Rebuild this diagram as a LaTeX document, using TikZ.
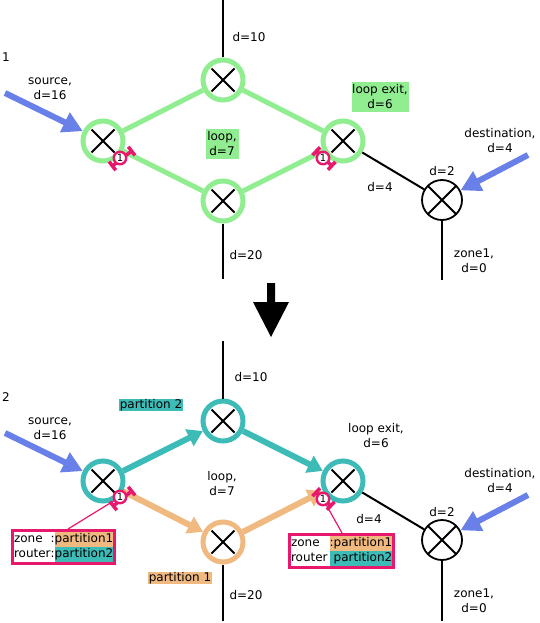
\documentclass[tikz,border=0pt]{standalone}
\usepackage{fontspec}
\setmainfont{DejaVu Sans}
\usetikzlibrary{arrows.meta}
\definecolor{lgreen}{RGB}{144,238,144}
\definecolor{tealc}{RGB}{61,187,183}
\definecolor{orangec}{RGB}{239,185,128}
\definecolor{bluec}{RGB}{104,128,232}
\definecolor{markred}{RGB}{232,24,108}
\newcommand\linkmark[7]{%
  \draw[markred, line width=3.5pt, {Bar[width=11pt,line width=3.5pt]}-{Bar[width=11pt,line width=3.5pt]}] (#4,#5) -- (#6,#7);
  \node[circle, draw=markred, fill=white, line width=2.4pt, inner sep=0pt, minimum size=12.5pt, font=\fontsize{10}{10}\selectfont] (#1) at (#2,#3) {1};
}
\begin{document}
\begin{tikzpicture}[x=1pt,y=-1pt, font=\fontsize{12}{15}\selectfont,
  router/.style={circle, minimum size=40pt, inner sep=0pt, line width=5pt, fill=white,
    path picture={\draw[black,line width=2pt]
      ([shift={(-11.5pt,-11.5pt)}]path picture bounding box.center) -- ([shift={(11.5pt,11.5pt)}]path picture bounding box.center)
      ([shift={(-11.5pt,11.5pt)}]path picture bounding box.center) -- ([shift={(11.5pt,-11.5pt)}]path picture bounding box.center);}},
  destrouter/.style={circle, minimum size=40pt, inner sep=0pt, line width=1.8pt, draw=black, fill=white,
    path picture={\draw[black,line width=1.8pt]
      ([shift={(-15pt,-15pt)}]path picture bounding box.center) -- ([shift={(15pt,15pt)}]path picture bounding box.center)
      ([shift={(-15pt,15pt)}]path picture bounding box.center) -- ([shift={(15pt,-15pt)}]path picture bounding box.center);}},
  glink/.style={draw=lgreen, line width=5pt},
  tlink/.style={draw=tealc, line width=6pt, -{Triangle[length=15pt,width=18pt]}},
  olink/.style={draw=orangec, line width=6pt, -{Triangle[length=15pt,width=18pt]}},
  wire/.style={draw=black, line width=2pt},
  bluearrow/.style={draw=bluec, line width=6pt, -{Triangle[length=20pt,width=21pt]}},
  lbl/.style={align=center, inner sep=0.5pt},
  gbox/.style={fill=lgreen, align=center, inner sep=0.5pt},
  infobox/.style={draw=markred, line width=3pt, fill=white, inner sep=1.5pt},
]
\useasboundingbox (0,0) rectangle (540,623);
\setlength\fboxsep{0pt}

% ================= diagram 1 =================
\node (num1) at (6,57) {1};
\node[router, draw=lgreen] (s1) at (103,141) {};
\node[router, draw=lgreen] (t1) at (223,80) {};
\node[router, draw=lgreen] (b1) at (223,201) {};
\node[router, draw=lgreen] (e1) at (343,141) {};
\node[destrouter] (d1) at (442,200) {};
\coordinate (t1top) at (223,0);
\coordinate (b1bot) at (223,279);
\coordinate (d1bot) at (442,280);
\coordinate (src1) at (5,93);
\coordinate (dst1) at (528,155);

\draw[glink] (s1) -- (t1);
\draw[glink] (s1) -- (b1);
\draw[glink] (t1) -- (e1);
\draw[glink] (b1) -- (e1);
\draw[wire] (t1) -- (t1top);
\draw[wire] (b1) -- (b1bot);
\draw[wire] (e1) -- (d1);
\draw[wire] (d1) -- (d1bot);
\draw[bluearrow] (src1) -- (s1);
\draw[bluearrow] (dst1) -- (d1);

\node[lbl] (srcl1) at (50,89) {source,\\d=16};
\node[lbl] (d10a) at (249,37) {d=10};
\node[gbox, minimum width=33pt, minimum height=30pt] (loop1) at (222,144) {loop,\\d=7};
\node[gbox, minimum width=57pt, minimum height=30pt] (exit1) at (380,97) {loop exit,\\d=6};
\node[lbl] (dstl1) at (500,141) {destination,\\d=4};
\node[lbl] (d2a) at (442,171) {d=2};
\node[lbl] (d4a) at (380,187) {d=4};
\node[lbl] (d20a) at (246,255) {d=20};
\node[lbl] (zone1a) at (474,261) {zone1,\\d=0};

\linkmark{m1}{120}{158}{111}{167}{133}{150}
\linkmark{m2}{323}{158}{315}{150}{333}{167}

% ================= transition arrow =================
\fill[black] (267,283) -- (275,283) -- (275,302) -- (289,302) -- (271,337) -- (253,302) -- (267,302) -- cycle;

% ================= diagram 2 =================
\node (num2) at (6,397) {2};
\node[router, draw=tealc] (s2) at (103,481) {};
\node[router, draw=tealc] (t2) at (223,421) {};
\node[router, draw=orangec] (b2) at (223,542) {};
\node[router, draw=tealc] (e2) at (343,481) {};
\node[destrouter] (d2) at (442,540) {};
\coordinate (t2top) at (223,341);
\coordinate (b2bot) at (223,621);
\coordinate (d2bot) at (442,621);
\coordinate (src2) at (5,433);
\coordinate (dst2) at (528,495);

\draw[wire] (t2) -- (t2top);
\draw[wire] (b2) -- (b2bot);
\draw[wire] (e2) -- (d2);
\draw[wire] (d2) -- (d2bot);
\draw[tlink] (s2) -- (t2);
\draw[tlink] (t2) -- (e2);
\draw[olink] (s2) -- (b2);
\draw[olink] (b2) -- (e2);
\draw[bluearrow] (src2) -- (s2);
\draw[bluearrow] (dst2) -- (d2);

\node[lbl] (srcl2) at (50,429) {source,\\d=16};
\node[lbl] (d10b) at (251,377) {d=10};
\node[fill=tealc, inner sep=0.5pt] (p2) at (151,405) {partition 2};
\node[lbl] (loop2) at (222,484) {loop,\\d=7};
\node[lbl] (exit2) at (376,436) {loop exit,\\d=6};
\node[lbl] (dstl2) at (500,481) {destination,\\d=4};
\node[lbl] (d2b) at (442,512) {d=2};
\node[lbl] (d4b) at (369,519) {d=4};
\node[fill=orangec, inner sep=0.5pt] (p1) at (180,578) {partition 1};
\node[lbl] (d20b) at (246,595) {d=20};
\node[lbl] (zone1b) at (474,601) {zone1,\\d=0};

\node[infobox, anchor=north west] (box1) at (11,529)
  {\begin{tabular}{@{}l@{}l@{}l@{}}zone & : & \colorbox{orangec}{\strut partition1}\\
   router & : & \colorbox{tealc}{\strut partition2}\end{tabular}};
\node[infobox, anchor=north west] (box2) at (288,533)
  {\begin{tabular}{@{}l@{\,}l@{}}zone & \colorbox{orangec}{\strut :partition1}\\
   router & \colorbox{tealc}{\strut\hphantom{:}partition2}\end{tabular}};

\draw[markred, line width=1.2pt] (120,497) -- (box1.north -| 68,0);
\draw[markred, line width=1.2pt] (323,499) -- (box2.north -| 342,0);
\linkmark{m3}{120}{497}{112}{507}{133}{490}
\linkmark{m4}{323}{499}{315}{491}{332}{507}
\end{tikzpicture}
\end{document}
